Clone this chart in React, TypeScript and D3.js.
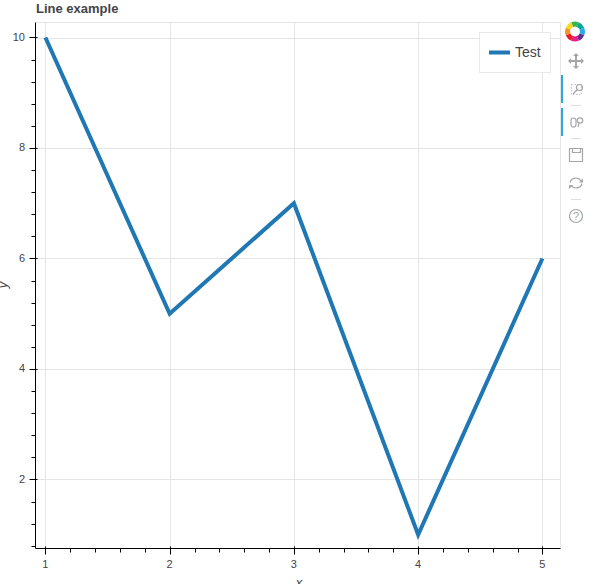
import React, { useEffect, useRef } from 'react';
import * as d3 from 'd3';

const xValues = [1, 2, 3, 4, 5];
const yValues = [10, 5, 7, 1, 6];
const xTicks = [1, 2, 3, 4, 5];
const yTicks = [2, 4, 6, 8, 10];
const seriesName = 'Test';
const logoColors = ['#3cb54a', '#00a99d', '#29abe2', '#662d91', '#ec1c8e', '#ed1c24', '#f7931e', '#f9d71c'];

const width = 615;
const height = 584;
const frame = { left: 35.5, right: 560.5, top: 22.5, bottom: 548.5 };
const font = '"Liberation Sans", Arial, sans-serif';

const App = () => {
  const chartRef = useRef<SVGSVGElement>(null);

  useEffect(() => {
    const svg = d3.select(chartRef.current);
    svg.selectAll('*').remove();

    const x = d3.scaleLinear().domain([1, 5]).range([45.4, 542.4]);
    const y = d3.scaleLinear().domain([1, 10]).range([534.7, 37.5]);
    const crisp = (v: number) => Math.round(v) + 0.5;

    // grid lines
    const grid = svg.append('g').attr('stroke', '#e5e5e5').attr('stroke-width', 1);
    xTicks.forEach((t) => {
      grid.append('line').attr('x1', crisp(x(t))).attr('x2', crisp(x(t))).attr('y1', frame.top).attr('y2', frame.bottom);
    });
    yTicks.forEach((t) => {
      grid.append('line').attr('x1', frame.left).attr('x2', frame.right).attr('y1', crisp(y(t))).attr('y2', crisp(y(t)));
    });

    // frame
    svg.append('path')
      .attr('d', `M${frame.left},${frame.top}H${frame.right}V${frame.bottom}`)
      .attr('fill', 'none')
      .attr('stroke', '#e5e5e5');

    // line
    const line = d3.line<number>().x((d) => x(d)).y((_, i) => y(yValues[i]));
    svg.append('path')
      .datum(xValues)
      .attr('d', line)
      .attr('fill', 'none')
      .attr('stroke', '#1f77b4')
      .attr('stroke-width', 4);

    // x axis
    const xAxis = svg.append('g').attr('stroke', '#000');
    xAxis.append('line').attr('x1', frame.left).attr('x2', frame.right).attr('y1', frame.bottom).attr('y2', frame.bottom);
    d3.range(1, 5.01, 0.2).forEach((t) => {
      const major = Math.abs(t - Math.round(t)) < 0.01;
      xAxis.append('line')
        .attr('x1', crisp(x(t)))
        .attr('x2', crisp(x(t)))
        .attr('y1', major ? frame.bottom - 2 : frame.bottom)
        .attr('y2', frame.bottom + (major ? 6 : 4));
    });
    svg.append('g')
      .selectAll('text')
      .data(xTicks)
      .enter()
      .append('text')
      .attr('x', (d) => x(d))
      .attr('y', 568)
      .attr('text-anchor', 'middle')
      .attr('font-family', font)
      .attr('font-size', 11)
      .attr('fill', '#444')
      .text((d) => d);

    // y axis
    const yAxis = svg.append('g').attr('stroke', '#000');
    yAxis.append('line').attr('x1', frame.left).attr('x2', frame.left).attr('y1', frame.top).attr('y2', frame.bottom);
    d3.range(0.8, 10.01, 0.4).forEach((t) => {
      const major = Math.abs(t / 2 - Math.round(t / 2)) < 0.01;
      yAxis.append('line')
        .attr('x1', frame.left - (major ? 6 : 4))
        .attr('x2', frame.left + (major ? 2 : 0))
        .attr('y1', crisp(y(t)))
        .attr('y2', crisp(y(t)));
    });
    svg.append('g')
      .selectAll('text')
      .data(yTicks)
      .enter()
      .append('text')
      .attr('x', 25)
      .attr('y', (d) => y(d) + 3.5)
      .attr('text-anchor', 'end')
      .attr('font-family', font)
      .attr('font-size', 11)
      .attr('fill', '#444')
      .text((d) => d);

    // titles
    svg.append('text').attr('x', 36).attr('y', 13).attr('font-family', font).attr('font-size', 13)
      .attr('font-weight', 'bold').attr('fill', '#444').text('Line example');
    svg.append('text').attr('x', 299).attr('y', 587).attr('text-anchor', 'middle').attr('font-family', font)
      .attr('font-size', 13).attr('font-style', 'italic').attr('fill', '#444').text('x');
    svg.append('text').attr('transform', 'translate(7,285) rotate(-90)').attr('text-anchor', 'middle')
      .attr('font-family', font).attr('font-size', 13).attr('font-style', 'italic').attr('fill', '#444').text('y');

    // legend
    const legend = svg.append('g');
    legend.append('rect').attr('x', 479.5).attr('y', 32.5).attr('width', 71).attr('height', 40)
      .attr('fill', '#fff').attr('stroke', '#e8e8e8');
    legend.append('line').attr('x1', 489).attr('x2', 510).attr('y1', 52.5).attr('y2', 52.5)
      .attr('stroke', '#1f77b4').attr('stroke-width', 4);
    legend.append('text').attr('x', 515).attr('y', 56.5).attr('font-family', font).attr('font-size', 14)
      .attr('fill', '#444').text(seriesName);

    // toolbar logo
    const arc = d3.arc<d3.PieArcDatum<number>>().innerRadius(5).outerRadius(10);
    const pie = d3.pie<number>().sort(null);
    svg.append('g')
      .attr('transform', 'translate(575,31.5) rotate(-22.5)')
      .selectAll('path')
      .data(pie(logoColors.map(() => 1)))
      .enter()
      .append('path')
      .attr('d', arc)
      .attr('fill', (_, i) => logoColors[i]);

    // toolbar icons
    const tools = svg.append('g').attr('fill', 'none').attr('stroke', '#a6a6a6').attr('stroke-width', 1.2);
    // pan
    tools.append('path').attr('stroke-width', 2).attr('d', 'M569,61H583M576,54V68');
    tools.append('path').attr('fill', '#a6a6a6').attr('stroke', 'none')
      .attr('d', 'M576,53l3,3h-6zM576,69l3,-3h-6zM568,61l3,-3v6zM584,61l-3,-3v6z');
    // box zoom
    tools.append('rect').attr('x', 571.5).attr('y', 84.5).attr('width', 10).attr('height', 10).attr('stroke', '#c4c4c4').attr('stroke-dasharray', '1.5,1.5');
    tools.append('circle').attr('cx', 579.5).attr('cy', 87.5).attr('r', 3);
    tools.append('path').attr('d', 'M577,90L573,94');
    // wheel zoom
    tools.append('rect').attr('x', 571).attr('y', 118).attr('width', 5).attr('height', 9).attr('rx', 2.5);
    tools.append('circle').attr('cx', 580).attr('cy', 120.5).attr('r', 2.7);
    tools.append('path').attr('d', 'M579,123L578,127');
    // save
    tools.append('path').attr('d', 'M569.5,148.5H582.5V161.5H569.5ZM572.5,148.5V152.5H580.5V148.5');
    // reset
    tools.append('path').attr('d', 'M570,182.5A6,6 0 0 1 581,181M582,183.5A6,6 0 0 1 571,185');
    tools.append('path').attr('fill', '#a6a6a6').attr('stroke', 'none').attr('d', 'M583,178.5v4h-4zM569,189v-4h4z');
    // help
    tools.append('circle').attr('cx', 576).attr('cy', 216).attr('r', 6.5);
    svg.append('text').attr('x', 576).attr('y', 220).attr('text-anchor', 'middle').attr('font-family', font)
      .attr('font-size', 11).attr('fill', '#a6a6a6').text('?');

    // separators and active markers
    const seps = svg.append('g').attr('stroke', '#ddd');
    [105.5, 138.5, 199.5].forEach((sy) => {
      seps.append('line').attr('x1', 571).attr('x2', 581).attr('y1', sy).attr('y2', sy);
    });
    const active = svg.append('g').attr('fill', '#26aae1');
    [75, 108].forEach((ay) => {
      active.append('rect').attr('x', 561).attr('y', ay).attr('width', 2).attr('height', 28);
    });
  }, []);

  return (
    <svg
      ref={chartRef}
      width={width}
      height={height}
      style={{ position: 'absolute', left: 0, top: 0, background: '#fff' }}
    />
  );
};

export default App;
